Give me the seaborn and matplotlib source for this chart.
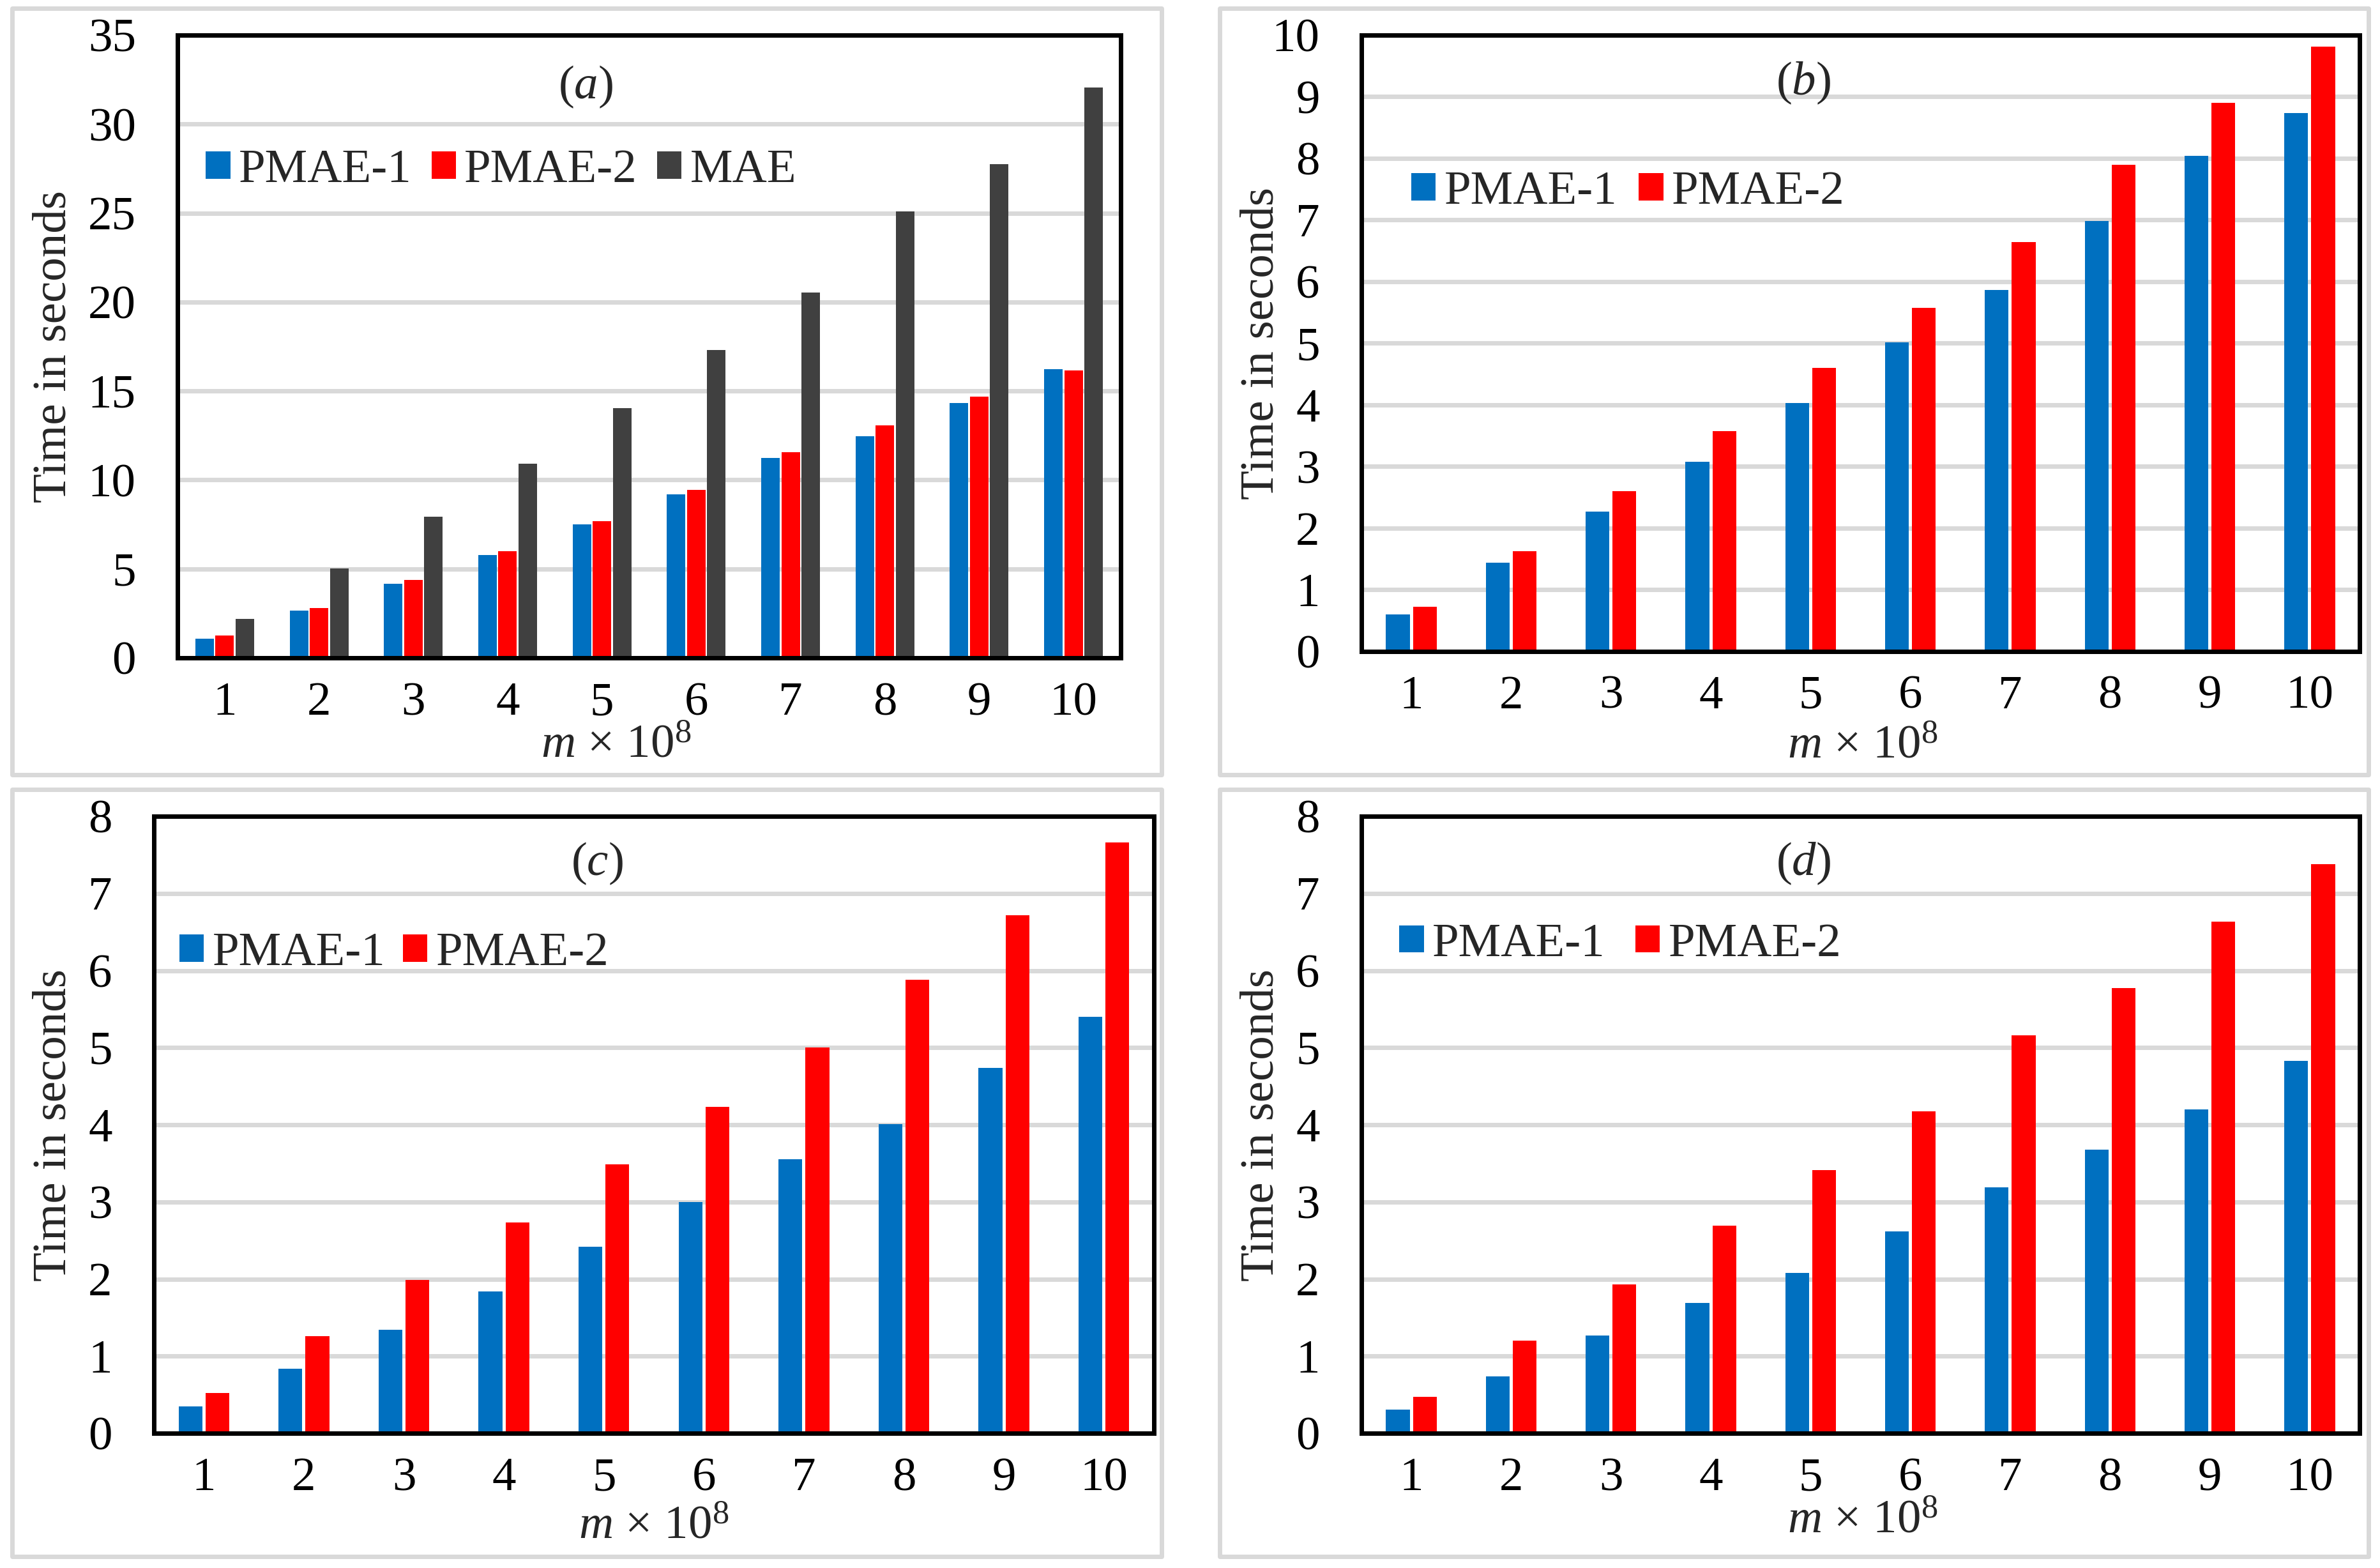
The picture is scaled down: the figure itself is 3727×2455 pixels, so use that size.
import numpy as np
import pandas as pd
import matplotlib
matplotlib.use("Agg")
import matplotlib.pyplot as plt
import seaborn as sns
from matplotlib.patches import Rectangle

# ---------------- data ----------------
m_values = [1, 2, 3, 4, 5, 6, 7, 8, 9, 10]
methods_a = ["PMAE-1", "PMAE-2", "MAE"]
methods_bcd = ["PMAE-1", "PMAE-2"]

a_pmae1 = [1.06, 2.65, 4.15, 5.77, 7.50, 9.20, 11.24, 12.47, 14.33, 16.23]
a_pmae2 = [1.25, 2.79, 4.38, 6.00, 7.67, 9.43, 11.57, 13.05, 14.70, 16.17]
a_mae = [2.20, 5.02, 7.92, 10.93, 14.05, 17.32, 20.55, 25.10, 27.75, 32.04]

b_pmae1 = [0.60, 1.44, 2.27, 3.08, 4.03, 5.02, 5.87, 6.98, 8.04, 8.74]
b_pmae2 = [0.73, 1.63, 2.60, 3.57, 4.60, 5.57, 6.64, 7.90, 8.90, 9.81]

c_pmae1 = [0.35, 0.84, 1.34, 1.84, 2.42, 3.00, 3.55, 4.01, 4.74, 5.40]
c_pmae2 = [0.52, 1.26, 1.99, 2.73, 3.49, 4.23, 5.00, 5.88, 6.72, 7.66]

d_pmae1 = [0.31, 0.74, 1.27, 1.69, 2.08, 2.62, 3.19, 3.68, 4.20, 4.83]
d_pmae2 = [0.47, 1.20, 1.93, 2.69, 3.41, 4.17, 5.16, 5.77, 6.63, 7.38]

panel_letters = ["a", "b", "c", "d"]
y_label = "Time in seconds"
x_label = r"$m$ × 10$^{8}$"

colors = {"PMAE-1": "#0070C0", "PMAE-2": "#FF0000", "MAE": "#404040"}


def long_df(methods, series):
    rows = []
    for name, vals in zip(methods, series):
        for m, v in zip(m_values, vals):
            rows.append({"m": m, "time": v, "method": name})
    return pd.DataFrame(rows)


# ---------------- style ----------------
sns.set_theme(style="white")
plt.rcParams["font.family"] = ["Liberation Serif", "DejaVu Serif"]
plt.rcParams["mathtext.fontset"] = "custom"
plt.rcParams["mathtext.rm"] = "Liberation Serif"
plt.rcParams["mathtext.it"] = "Liberation Serif:italic"
plt.rcParams["mathtext.bf"] = "Liberation Serif:bold"

W, H = 3727, 2455
fig = plt.figure(figsize=(W / 100, H / 100), dpi=100)
fig.patch.set_facecolor("white")

FS = 54
LW = 5.04  # 7 px
GRID = "#D9D9D9"

# panel borders (pixel coords: x0, y0, x1, y1 from top-left)
borders = [(18.5, 13, 1819, 1213), (1909.5, 13, 3708.5, 1213),
           (18.5, 1236, 1819, 2436.5), (1909.5, 1236, 3708.5, 2436.5)]
for (x0, y0, x1, y1) in borders:
    fig.add_artist(Rectangle((x0 / W, 1 - y1 / H), (x1 - x0) / W, (y1 - y0) / H,
                             transform=fig.transFigure, fill=False,
                             edgecolor=GRID, linewidth=LW, zorder=0,
                             joinstyle="round"))

# axes rectangles in pixels: left, top, right, bottom
axes_px = [(278, 55, 1755, 1030), (2132, 55, 3695, 1020),
           (241, 1278, 1807, 2244), (2132, 1278, 3695, 2244)]

panels = [
    dict(methods=methods_a, series=[a_pmae1, a_pmae2, a_mae], ymax=35, ystep=5,
         width=0.64, gap=0.08, title_xy=(0.433, 0.917), xlab_xy=(0.465, -0.159),
         ylab_x=-0.131, leg_xy=(0.030, 0.782), colsp=0.41),
    dict(methods=methods_bcd, series=[b_pmae1, b_pmae2], ymax=10, ystep=1,
         width=0.54, gap=0.12, title_xy=(0.443, 0.922), xlab_xy=(0.502, -0.173),
         ylab_x=-0.100, leg_xy=(0.050, 0.745), colsp=0.45),
    dict(methods=methods_bcd, series=[c_pmae1, c_pmae2], ymax=8, ystep=1,
         width=0.54, gap=0.12, title_xy=(0.443, 0.923), xlab_xy=(0.500, -0.170),
         ylab_x=-0.0996, leg_xy=(0.0255, 0.777), colsp=0.37),
    dict(methods=methods_bcd, series=[d_pmae1, d_pmae2], ymax=8, ystep=1,
         width=0.54, gap=0.12, title_xy=(0.443, 0.923), xlab_xy=(0.502, -0.161),
         ylab_x=-0.100, leg_xy=(0.038, 0.792), colsp=0.63),
]

for letter, (l, t, r, b), p in zip(panel_letters, axes_px, panels):
    ax = fig.add_axes([l / W, 1 - b / H, (r - l) / W, (b - t) / H])
    df = long_df(p["methods"], p["series"])
    sns.barplot(data=df, x="m", y="time", hue="method", hue_order=p["methods"],
                palette=[colors[mm] for mm in p["methods"]], width=p["width"],
                gap=p["gap"], saturation=1, errorbar=None, linewidth=0, ax=ax)

    ax.set_ylim(0, p["ymax"])
    ax.set_yticks(np.arange(0, p["ymax"] + p["ystep"] / 2, p["ystep"]))
    ax.set_axisbelow(True)
    ax.grid(axis="y", color=GRID, linewidth=LW)
    ax.grid(axis="x", visible=False)
    for s in ax.spines.values():
        s.set_visible(True)
        s.set_color("black")
        s.set_linewidth(LW)
        s.set_zorder(5)
    ax.tick_params(axis="both", length=0, labelsize=FS, colors="black")
    ax.tick_params(axis="y", pad=47)
    ax.tick_params(axis="x", pad=27)

    ax.set_ylabel(y_label, fontsize=FS, va="center")
    ax.yaxis.set_label_coords(p["ylab_x"], 0.5)
    ax.set_xlabel(x_label, fontsize=FS)
    ax.xaxis.set_label_coords(*p["xlab_xy"])
    ax.xaxis.label.set_va("baseline")

    ax.text(p["title_xy"][0], p["title_xy"][1], "($%s$)" % letter,
            transform=ax.transAxes, ha="center", va="center", fontsize=FS)

    old = ax.get_legend()
    handles = list(old.legend_handles)
    labels = [tx.get_text() for tx in old.get_texts()]
    old.remove()
    ax.legend(handles, labels, loc="center left", bbox_to_anchor=p["leg_xy"],
              ncol=len(labels), frameon=False, fontsize=FS, handlelength=0.51,
              handleheight=0.5, handletextpad=0.18, columnspacing=p["colsp"],
              borderpad=0, borderaxespad=0)

fig.savefig("out.png", dpi=100, facecolor="white")
